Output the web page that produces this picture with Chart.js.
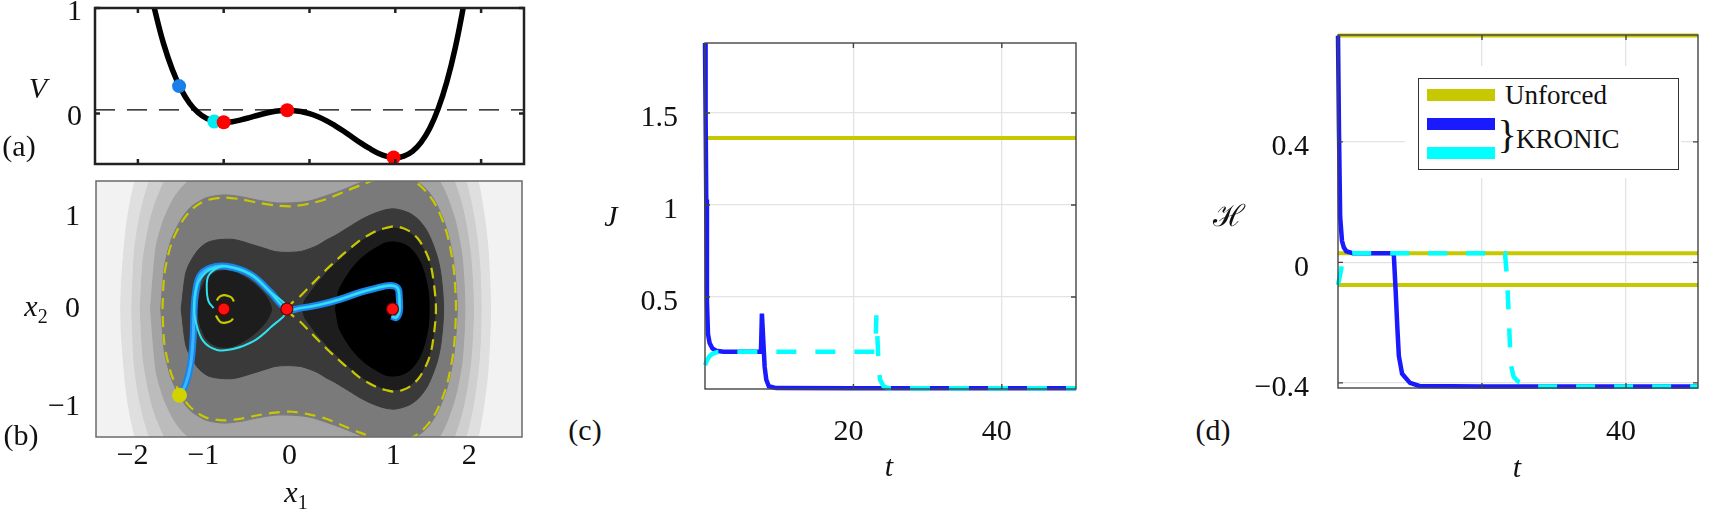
<!DOCTYPE html>
<html>
<head>
<meta charset="utf-8">
<script src="https://cdn.jsdelivr.net/npm/chart.js@4.4.1/dist/chart.umd.min.js"></script>
<style>
body{margin:0;width:1725px;height:529px;background:#fff;position:relative;overflow:hidden;font-family:"Liberation Serif",serif;color:#111}
canvas{position:absolute}
.c{position:absolute;white-space:nowrap;line-height:1;transform:translate(-50%,-50%)}
.l{position:absolute;white-space:nowrap;line-height:1}
i{font-style:italic}
.sub{font-size:20px;position:relative;top:7px}
</style>
</head>
<body>
<canvas id="ca"></canvas>
<canvas id="cb"></canvas>
<canvas id="cc"></canvas>
<canvas id="cd"></canvas>
<div id="txt"></div>
<script>

/* ---------- DATA ---------- */

// (a) potential V(x1)
const aX = [-1.9,-1.85,-1.8,-1.7,-1.6,-1.5,-1.4,-1.3,-1.2,-1.1,-1.0,-0.9,-0.8,-0.7,-0.6,-0.5,-0.4,-0.3,-0.2,-0.1,0,0.1,0.2,0.3,0.4,0.5,0.6,0.7,0.8,0.9,1.0,1.1,1.2,1.3,1.4,1.5,1.6,1.7,1.8,1.85];
const aV = [1.36,1.15,0.97,0.66,0.42,0.235,0.10,0.01,-0.046,-0.075,-0.083,-0.077,-0.06,-0.039,-0.016,0.005,0.021,0.03,0.03,0.02,0,-0.03,-0.069,-0.116,-0.168,-0.224,-0.28,-0.331,-0.375,-0.405,-0.417,-0.403,-0.358,-0.273,-0.141,0.047,0.299,0.627,1.04,1.28];
const aLevelX = [-2.5, 2.5];
const aLevelV = [0.035, 0.035];
const aPtX = [-1.52, -1.11, -1.0, -0.26, 0.98];
const aPtV = [0.26, -0.075, -0.083, 0.031, -0.417];
const aXTicks = [-2, -1, 0, 1, 2];
const aYTicks = [0, 1];

// (b) phase plane: filled level regions of H (outer to inner)
const bH315 = [[-2.21,0],[-2.2,0.32],[-2.15,0.9],[-2.1,1.22],[-2.05,1.44],[-2.0,1.62],[-1.9,1.8],[1.9,1.8],[1.95,1.61],[2.0,1.4],[2.05,1.11],[2.1,0.7],[2.13,0],[2.1,-0.7],[2.05,-1.11],[2.0,-1.4],[1.95,-1.61],[1.9,-1.8],[-1.9,-1.8],[-2.0,-1.62],[-2.05,-1.44],[-2.1,-1.22],[-2.15,-0.9],[-2.2,-0.32],[-2.21,0]];
const bH232 = [[-2.08,0],[-2.05,0.65],[-2.0,0.99],[-1.95,1.22],[-1.9,1.39],[-1.85,1.53],[-1.8,1.64],[-1.7,1.8],[1.7,1.8],[1.8,1.6],[1.85,1.44],[1.9,1.24],[1.95,0.97],[2.0,0.55],[2.02,0],[2.0,-0.55],[1.95,-0.97],[1.9,-1.24],[1.85,-1.44],[1.8,-1.6],[1.7,-1.8],[-1.7,-1.8],[-1.8,-1.64],[-1.85,-1.53],[-1.9,-1.39],[-1.95,-1.22],[-2.0,-0.99],[-2.05,-0.65],[-2.08,0]];
const bH172 = [[-1.98,0],[-1.95,0.53],[-1.9,0.85],[-1.85,1.07],[-1.8,1.23],[-1.75,1.35],[-1.7,1.46],[-1.65,1.54],[-1.6,1.62],[-1.5,1.8],[1.55,1.8],[1.65,1.59],[1.7,1.48],[1.75,1.34],[1.8,1.17],[1.85,0.93],[1.9,0.58],[1.93,0],[1.9,-0.58],[1.85,-0.93],[1.8,-1.17],[1.75,-1.34],[1.7,-1.48],[1.65,-1.59],[1.55,-1.8],[-1.5,-1.8],[-1.6,-1.62],[-1.65,-1.54],[-1.7,-1.46],[-1.75,-1.35],[-1.8,-1.23],[-1.85,-1.07],[-1.9,-0.85],[-1.95,-0.53],[-1.98,0]];
const bH120 = [[-1.86,0],[-1.8,0.68],[-1.75,0.89],[-1.7,1.04],[-1.6,1.25],[-1.5,1.39],[-1.4,1.48],[-1.3,1.54],[-1.2,1.58],[-1.0,1.62],[1.3,1.72],[1.4,1.64],[1.5,1.52],[1.6,1.34],[1.7,1.07],[1.75,0.87],[1.8,0.57],[1.83,0],[1.8,-0.57],[1.75,-0.87],[1.7,-1.07],[1.6,-1.34],[1.5,-1.52],[1.4,-1.64],[1.3,-1.72],[-1.0,-1.62],[-1.2,-1.58],[-1.3,-1.54],[-1.4,-1.48],[-1.5,-1.39],[-1.6,-1.25],[-1.7,-1.04],[-1.75,-0.89],[-1.8,-0.68],[-1.86,0]];
const bH077 = [[-1.74,0],[-1.7,0.47],[-1.65,0.69],[-1.6,0.84],[-1.5,1.03],[-1.4,1.16],[-1.3,1.23],[-1.2,1.28],[-1.0,1.31],[-0.8,1.29],[-0.6,1.25],[-0.4,1.22],[-0.2,1.22],[0,1.24],[0.2,1.3],[0.4,1.37],[0.6,1.45],[0.8,1.51],[1.0,1.54],[1.2,1.5],[1.3,1.44],[1.4,1.35],[1.5,1.2],[1.6,0.97],[1.65,0.79],[1.7,0.53],[1.74,0],[1.7,-0.53],[1.65,-0.79],[1.6,-0.97],[1.5,-1.2],[1.4,-1.35],[1.3,-1.44],[1.2,-1.5],[1.0,-1.54],[0.8,-1.51],[0.6,-1.45],[0.4,-1.37],[0.2,-1.3],[0,-1.24],[-0.2,-1.22],[-0.4,-1.22],[-0.6,-1.25],[-0.8,-1.29],[-1.0,-1.31],[-1.2,-1.28],[-1.3,-1.23],[-1.4,-1.16],[-1.5,-1.03],[-1.6,-0.84],[-1.65,-0.69],[-1.7,-0.47],[-1.74,0]];
const bH024 = [[-1.5,0],[-1.45,0.4],[-1.4,0.53],[-1.3,0.68],[-1.2,0.76],[-1.1,0.79],[-1.0,0.8],[-0.9,0.8],[-0.8,0.78],[-0.7,0.75],[-0.6,0.72],[-0.5,0.69],[-0.4,0.66],[-0.27,0.65],[-0.1,0.66],[0,0.69],[0.1,0.73],[0.2,0.79],[0.3,0.84],[0.4,0.9],[0.5,0.96],[0.6,1.02],[0.7,1.07],[0.8,1.11],[0.9,1.14],[1.0,1.15],[1.1,1.13],[1.2,1.09],[1.3,1.01],[1.4,0.87],[1.5,0.62],[1.55,0.39],[1.58,0],[1.55,-0.39],[1.5,-0.62],[1.4,-0.87],[1.3,-1.01],[1.2,-1.09],[1.1,-1.13],[1.0,-1.15],[0.9,-1.14],[0.8,-1.11],[0.7,-1.07],[0.6,-1.02],[0.5,-0.96],[0.4,-0.9],[0.3,-0.84],[0.2,-0.79],[0.1,-0.73],[0,-0.69],[-0.1,-0.66],[-0.27,-0.65],[-0.4,-0.66],[-0.5,-0.69],[-0.6,-0.72],[-0.7,-0.75],[-0.8,-0.78],[-0.9,-0.8],[-1.0,-0.8],[-1.1,-0.79],[-1.2,-0.76],[-1.3,-0.68],[-1.4,-0.53],[-1.45,-0.4],[-1.5,0]];
const bH002L = [[-1.31,0],[-1.28,0.18],[-1.25,0.26],[-1.2,0.35],[-1.1,0.42],[-1.0,0.44],[-0.9,0.43],[-0.8,0.39],[-0.7,0.33],[-0.6,0.25],[-0.5,0.14],[-0.44,0],[-0.5,-0.14],[-0.6,-0.25],[-0.7,-0.33],[-0.8,-0.39],[-0.9,-0.43],[-1.0,-0.44],[-1.1,-0.42],[-1.2,-0.35],[-1.25,-0.26],[-1.28,-0.18],[-1.31,0]];
const bH002R = [[-0.08,0],[-0.05,0.1],[0,0.17],[0.1,0.3],[0.2,0.41],[0.3,0.51],[0.4,0.6],[0.5,0.69],[0.6,0.77],[0.7,0.83],[0.8,0.88],[0.9,0.92],[1.0,0.93],[1.1,0.91],[1.2,0.86],[1.3,0.76],[1.4,0.56],[1.45,0.36],[1.48,0],[1.45,-0.36],[1.4,-0.56],[1.3,-0.76],[1.2,-0.86],[1.1,-0.91],[1.0,-0.93],[0.9,-0.92],[0.8,-0.88],[0.7,-0.83],[0.6,-0.77],[0.5,-0.69],[0.4,-0.6],[0.3,-0.51],[0.2,-0.41],[0.1,-0.3],[0,-0.17],[-0.05,-0.1],[-0.08,0]];
const bHm012 = [[0.31,0],[0.35,0.21],[0.4,0.31],[0.5,0.46],[0.6,0.57],[0.7,0.65],[0.8,0.71],[0.9,0.76],[1.0,0.77],[1.1,0.75],[1.2,0.69],[1.3,0.55],[1.35,0.42],[1.4,0.2],[1.41,0],[1.4,-0.2],[1.35,-0.42],[1.3,-0.55],[1.2,-0.69],[1.1,-0.75],[1.0,-0.77],[0.9,-0.76],[0.8,-0.71],[0.7,-0.65],[0.6,-0.57],[0.5,-0.46],[0.4,-0.31],[0.35,-0.21],[0.31,0]];
// dashed energy contours: initial energy, separatrix (right lobe), small orbit round the left well
const bE0 = [[-1.72,0],[-1.7,0.38],[-1.65,0.63],[-1.6,0.79],[-1.5,0.99],[-1.4,1.12],[-1.3,1.2],[-1.2,1.25],[-1.0,1.28],[-0.8,1.26],[-0.6,1.22],[-0.4,1.19],[-0.2,1.18],[0,1.21],[0.2,1.26],[0.4,1.34],[0.6,1.42],[0.8,1.49],[1.0,1.52],[1.2,1.48],[1.3,1.42],[1.4,1.32],[1.5,1.17],[1.6,0.93],[1.65,0.74],[1.7,0.45],[1.725,0],[1.7,-0.45],[1.65,-0.74],[1.6,-0.93],[1.5,-1.17],[1.4,-1.32],[1.3,-1.42],[1.2,-1.48],[1.0,-1.52],[0.8,-1.49],[0.6,-1.42],[0.4,-1.34],[0.2,-1.26],[0,-1.21],[-0.2,-1.18],[-0.4,-1.19],[-0.6,-1.22],[-0.8,-1.26],[-1.0,-1.28],[-1.2,-1.25],[-1.3,-1.2],[-1.4,-1.12],[-1.5,-0.99],[-1.6,-0.79],[-1.65,-0.63],[-1.7,-0.38],[-1.72,0]];
const bSep = [[-0.27,0],[-0.2,0.07],[-0.1,0.15],[0,0.25],[0.1,0.35],[0.2,0.45],[0.3,0.54],[0.4,0.63],[0.5,0.71],[0.6,0.79],[0.7,0.85],[0.8,0.9],[0.9,0.93],[1.0,0.95],[1.1,0.93],[1.2,0.88],[1.3,0.78],[1.4,0.59],[1.45,0.4],[1.49,0],[1.45,-0.4],[1.4,-0.59],[1.3,-0.78],[1.2,-0.88],[1.1,-0.93],[1.0,-0.95],[0.9,-0.93],[0.8,-0.9],[0.7,-0.85],[0.6,-0.79],[0.5,-0.71],[0.4,-0.63],[0.3,-0.54],[0.2,-0.45],[0.1,-0.35],[0,-0.25],[-0.1,-0.15],[-0.2,-0.07],[-0.27,0]];
const bSmall = [[-1.12,0],[-1.1,0.06],[-1.05,0.14],[-1.0,0.16],[-0.95,0.15],[-0.9,0.12],[-0.86,0],[-0.9,-0.12],[-0.95,-0.15],[-1.0,-0.16],[-1.05,-0.14],[-1.1,-0.06],[-1.12,0]];
// controlled trajectories
const bBlue = [[-1.52,-0.99],[-1.45,-0.87],[-1.39,-0.64],[-1.36,-0.33],[-1.35,-0.03],[-1.33,0.2],[-1.28,0.38],[-1.16,0.47],[-0.97,0.49],[-0.69,0.4],[-0.46,0.2],[-0.26,0],[-0.1,0.01],[0.13,0.05],[0.36,0.11],[0.6,0.19],[0.79,0.24],[0.95,0.27],[1.04,0.24],[1.06,0.13],[1.06,-0.03],[1.02,-0.1],[0.97,-0.08]];
const bCyan = [[-1.12,0.01],[-1.18,0.09],[-1.2,0.24],[-1.18,0.38],[-1.08,0.47],[-0.97,0.49],[-0.69,0.4],[-0.46,0.2],[-0.26,0],[-0.46,-0.22],[-0.65,-0.37],[-0.89,-0.46],[-1.08,-0.47],[-1.24,-0.37],[-1.33,-0.14],[-1.35,0.05],[-1.31,0.28],[-1.2,0.43],[-1.08,0.48],[-0.97,0.49],[-0.69,0.4],[-0.46,0.2],[-0.26,0],[-0.1,0.01],[0.13,0.05],[0.36,0.11],[0.6,0.19],[0.79,0.24],[0.95,0.27],[1.04,0.24],[1.06,0.13],[1.06,-0.03],[1.02,-0.1],[0.97,-0.08]];
const bFixX = [-1.0, -0.26, 0.98];
const bFixY = [0, 0, 0];
const bStartX = [-1.52];
const bStartY = [-0.99];
const bXTickVals = [-2.07, -1.24, -0.23, 0.99, 1.88];
const bXTickLabels = ['\u22122', '\u22121', '0', '1', '2'];
const bYTickVals = [-1.13, 0, 1.06];
const bYTickLabels = ['\u22121', '0', '1'];

// (c) cost J(t)
const cUnfT = [0, 50];
const cUnfJ = [1.364, 1.364];
const cBlueT = [0, 0.08, 0.17, 0.26, 0.4, 0.62, 1.0, 1.5, 2.5, 5, 7.54, 7.67, 7.81, 8.04, 8.26, 8.6, 9.6, 20, 50];
const cBlueJ = [1.88, 1.5, 1.03, 0.48, 0.30, 0.25, 0.22, 0.208, 0.203, 0.203, 0.203, 0.41, 0.30, 0.12, 0.05, 0.015, 0.005, 0.004, 0.004];
const cCyanT = [0, 0.3, 0.6, 0.95, 1.6, 3, 10, 22.95, 23.1, 23.25, 23.4, 23.6, 24.1, 24.8, 50];
const cCyanJ = [0.13, 0.158, 0.178, 0.19, 0.2, 0.203, 0.203, 0.203, 0.40, 0.27, 0.12, 0.05, 0.012, 0.004, 0.004];
const cXTicks = [20, 40];
const cYTicks = [0.5, 1, 1.5];

// (d) energy H(t)
const dUnfT = [0, 50];
const dUnfHigh = [0.753, 0.753];
const dUnfSaddle = [0.03, 0.03];
const dUnfLow = [-0.075, -0.075];
const dBlueT = [0, 0.14, 0.3, 0.55, 0.8, 1.15, 2.1, 5, 7.74, 8.0, 8.25, 8.45, 8.9, 10.0, 11.3, 20, 50];
const dBlueH = [0.753, 0.43, 0.151, 0.072, 0.05, 0.037, 0.03, 0.03, 0.03, -0.09, -0.22, -0.31, -0.37, -0.40, -0.41, -0.412, -0.412];
const dCyanT = [0, 0.3, 0.6, 1.2, 2, 10, 23.2, 23.5, 23.75, 24.0, 24.4, 25.0, 26.0, 27.5, 50];
const dCyanH = [-0.075, -0.04, -0.003, 0.028, 0.03, 0.03, 0.03, -0.06, -0.2, -0.34, -0.38, -0.395, -0.405, -0.412, -0.412];
const dXTicks = [20, 40];
const dYTicks = [-0.4, 0, 0.4];

/* ---------- STYLE ---------- */

const YEL = '#c8c800', BLUE = '#1a1aff', CYAN = '#00ffff';
const aPtColors = ['#1a80e8', '#00eef2', '#ff0000', '#ff0000', '#ff0000'];
const bFill = ['#dfdfdf', '#cfcfcf', '#bcbcbc', '#a3a3a3', '#7a7a7a', '#3a3a3a', '#1d1d1d', '#000000'];

Chart.defaults.font.family = '"Liberation Serif", serif';
Chart.defaults.font.size = 30;
Chart.defaults.color = '#111';
Chart.defaults.elements.line.capBezierPoints = false;
Chart.defaults.plugins.legend.display = false;
Chart.defaults.plugins.tooltip.enabled = false;

/* ---------- HELPERS ---------- */

function xy(xs, ys){ return xs.map((x, i) => ({x: x, y: ys[i]})); }
function pts(arr){ return arr.map(p => ({x: p[0], y: p[1]})); }
function minus(v){ return String(v).replace('-', '\u2212'); }
function fixed(vals){ return s => { s.ticks = vals.map(v => ({value: v})); }; }

// box + inward tick marks, like a matlab axes
const framePlugin = {
  id: 'frame',
  afterDatasetsDraw(chart, args, o){
    const ctx = chart.ctx, a = chart.chartArea;
    ctx.save();
    ctx.strokeStyle = o.color; ctx.lineWidth = o.width;
    if(o.tick){
      ctx.beginPath();
      const xs = chart.scales.x, ys = chart.scales.y;
      xs.ticks.forEach(t => {
        const p = xs.getPixelForValue(t.value);
        ctx.moveTo(p, a.bottom); ctx.lineTo(p, a.bottom - o.tick);
        ctx.moveTo(p, a.top); ctx.lineTo(p, a.top + o.tick);
      });
      ys.ticks.forEach(t => {
        const p = ys.getPixelForValue(t.value);
        ctx.moveTo(a.left, p); ctx.lineTo(a.left + o.tick, p);
        ctx.moveTo(a.right, p); ctx.lineTo(a.right - o.tick, p);
      });
      ctx.stroke();
    }
    ctx.strokeRect(a.left, a.top, a.right - a.left, a.bottom - a.top);
    ctx.restore();
  }
};

const areaBg = {
  id: 'areaBg',
  beforeDatasetsDraw(chart, args, o){
    if(!o.color) return;
    const a = chart.chartArea;
    chart.ctx.save();
    chart.ctx.fillStyle = o.color;
    chart.ctx.fillRect(a.left, a.top, a.right - a.left, a.bottom - a.top);
    chart.ctx.restore();
  }
};

// plot = [left, top, right, bottom] on the page, m = room for the axes around it
function makeChart(id, plot, m, cfg){
  const cv = document.getElementById(id);
  const w = plot[2] - plot[0] + m.l + m.r, h = plot[3] - plot[1] + m.t + m.b;
  cv.width = w; cv.height = h;
  cv.style.width = w + 'px'; cv.style.height = h + 'px';
  cv.style.left = (plot[0] - m.l) + 'px'; cv.style.top = (plot[1] - m.t) + 'px';
  const o = cfg.options;
  o.responsive = false;
  o.animation = false;
  o.layout = {padding: {left: 0, top: m.t, right: m.r, bottom: 0}};
  o.scales.x.afterFit = s => { s.height = m.b; s.paddingLeft = 0; s.paddingRight = 0; };
  o.scales.y.afterFit = s => { s.width = m.l; s.paddingTop = 0; s.paddingBottom = 0; };
  cfg.plugins = [areaBg, framePlugin];
  return new Chart(cv, cfg);
}

function addText(html, x, y, size, centered){
  const d = document.createElement('div');
  d.className = centered ? 'c' : 'l';
  d.style.left = x + 'px'; d.style.top = y + 'px';
  d.style.fontSize = size + 'px';
  d.innerHTML = html;
  document.getElementById('txt').appendChild(d);
  return d;
}

/* ---------- (a) ---------- */

makeChart('ca', [95, 8, 524, 164], {l: 95, t: 30, r: 16, b: 20}, {
  type: 'line',
  data: {datasets: [
    {data: xy(aX, aV), borderColor: '#000', borderWidth: 5.5, pointRadius: 0, tension: 0.4, order: 2},
    {data: xy(aLevelX, aLevelV), borderColor: '#000', borderWidth: 1.2, borderDash: [20, 12], pointRadius: 0, order: 3},
    {data: xy(aPtX, aPtV), showLine: false, pointRadius: 7, pointBackgroundColor: aPtColors, pointBorderColor: aPtColors, pointBorderWidth: 0, order: 1, clip: false}
  ]},
  options: {
    plugins: {frame: {color: '#222', width: 2.5, tick: 5}},
    scales: {
      x: {type: 'linear', min: -2.5, max: 2.5, afterBuildTicks: fixed(aXTicks),
          grid: {display: false, drawTicks: false}, border: {display: false},
          ticks: {display: false}},
      y: {type: 'linear', min: -0.478, max: 1, afterBuildTicks: fixed(aYTicks),
          grid: {display: false, drawTicks: false}, border: {display: false},
          ticks: {autoSkip: false, padding: 13, labelOffset: 4, callback: v => minus(v)}}
    }
  }
});

/* ---------- (b) ---------- */

const bLevels = [bH315, bH232, bH172, bH120, bH077, bH024, bH002L, bH002R, bHm012];
const bLevelColor = [bFill[0], bFill[1], bFill[2], bFill[3], bFill[4], bFill[5], bFill[6], bFill[6], bFill[7]];
const bSets = bLevels.map((poly, i) => ({
  data: pts(poly), fill: 'shape', backgroundColor: bLevelColor[i], borderColor: bLevelColor[i],
  borderWidth: 1, pointRadius: 0, tension: 0.3, order: 40 - i
}));
bSets.push(
  {data: pts(bE0), borderColor: YEL, borderWidth: 2.2, borderDash: [11, 7], pointRadius: 0, tension: 0.3, order: 12},
  {data: pts(bSep), borderColor: YEL, borderWidth: 2.2, borderDash: [11, 7], pointRadius: 0, tension: 0.3, order: 11},
  {data: pts(bSmall), borderColor: YEL, borderWidth: 2.2, borderDash: [22, 18], borderDashOffset: -9, pointRadius: 0, tension: 0.4, order: 10},
  {data: pts(bBlue), borderColor: '#1a84e8', borderWidth: 7, pointRadius: 0, tension: 0.4, order: 7},
  {data: pts(bBlue), borderColor: '#3ab6ff', borderWidth: 3, pointRadius: 0, tension: 0.4, order: 6},
  {data: pts(bCyan), borderColor: '#2fe2ee', borderWidth: 2, pointRadius: 0, tension: 0.4, order: 5},
  {data: xy(bFixX, bFixY), showLine: false, pointRadius: 6, pointBackgroundColor: '#ff1010', pointBorderColor: '#6a0000', pointBorderWidth: 1.2, order: 2, clip: false},
  {data: xy(bStartX, bStartY), showLine: false, pointRadius: 7.5, pointBackgroundColor: '#d2d200', pointBorderColor: '#d2d200', pointBorderWidth: 0, order: 1, clip: false}
);

makeChart('cb', [96, 181, 522, 437], {l: 96, t: 30, r: 16, b: 60}, {
  type: 'line',
  data: {datasets: bSets},
  options: {
    plugins: {frame: {color: '#6a6a6a', width: 1.5, tick: 0}, areaBg: {color: '#f2f2f2'}},
    scales: {
      x: {type: 'linear', min: -2.5, max: 2.5, afterBuildTicks: fixed(bXTickVals),
          grid: {display: false, drawTicks: false}, border: {display: false},
          ticks: {autoSkip: false, maxRotation: 0, padding: 1, callback: (v, i) => bXTickLabels[i]}},
      y: {type: 'linear', min: -1.47, max: 1.47, afterBuildTicks: fixed(bYTickVals),
          grid: {display: false, drawTicks: false}, border: {display: false},
          ticks: {autoSkip: false, padding: 16, callback: (v, i) => bYTickLabels[i]}}
    }
  }
});

/* ---------- (c) ---------- */

makeChart('cc', [705, 43, 1076, 389], {l: 100, t: 30, r: 20, b: 70}, {
  type: 'line',
  data: {datasets: [
    {data: xy(cUnfT, cUnfJ), borderColor: YEL, borderWidth: 4, pointRadius: 0, order: 3, clip: 4},
    {data: xy(cBlueT, cBlueJ), borderColor: BLUE, borderWidth: 4.5, pointRadius: 0, order: 2, clip: 4},
    {data: xy(cCyanT, cCyanJ), borderColor: CYAN, borderWidth: 4.5, borderDash: [20, 19], pointRadius: 0, order: 1, clip: 4}
  ]},
  options: {
    plugins: {frame: {color: '#444', width: 1.4, tick: 5}},
    scales: {
      x: {type: 'linear', min: 0, max: 50, afterBuildTicks: fixed(cXTicks),
          grid: {color: '#e3e3e3', lineWidth: 1.3, drawTicks: false}, border: {display: false},
          ticks: {autoSkip: false, maxRotation: 0, padding: 25, labelOffset: -5, callback: v => minus(v)}},
      y: {type: 'linear', min: 0, max: 1.88, afterBuildTicks: fixed(cYTicks),
          grid: {color: '#e3e3e3', lineWidth: 1.3, drawTicks: false}, border: {display: false},
          ticks: {autoSkip: false, padding: 27, labelOffset: 5, callback: v => minus(v)}}
    }
  }
});

/* ---------- (d) ---------- */

makeChart('cd', [1338, 35, 1698, 388], {l: 100, t: 30, r: 20, b: 70}, {
  type: 'line',
  data: {datasets: [
    {data: xy(dUnfT, dUnfHigh), borderColor: YEL, borderWidth: 4, pointRadius: 0, order: 5, clip: false},
    {data: xy(dUnfT, dUnfSaddle), borderColor: YEL, borderWidth: 4, pointRadius: 0, order: 4, clip: 4},
    {data: xy(dUnfT, dUnfLow), borderColor: YEL, borderWidth: 4, pointRadius: 0, order: 3, clip: 4},
    {data: xy(dBlueT, dBlueH), borderColor: BLUE, borderWidth: 4.5, pointRadius: 0, order: 2, clip: 4},
    {data: xy(dCyanT, dCyanH), borderColor: CYAN, borderWidth: 4.5, borderDash: [19, 19], pointRadius: 0, order: 1, clip: 4}
  ]},
  options: {
    plugins: {frame: {color: '#444', width: 1.4, tick: 5}},
    scales: {
      x: {type: 'linear', min: 0, max: 50, afterBuildTicks: fixed(dXTicks),
          grid: {color: '#e3e3e3', lineWidth: 1.3, drawTicks: false}, border: {display: false},
          ticks: {autoSkip: false, maxRotation: 0, padding: 26, labelOffset: -5, callback: v => minus(v)}},
      y: {type: 'linear', min: -0.417, max: 0.755, afterBuildTicks: fixed(dYTicks),
          grid: {color: '#e3e3e3', lineWidth: 1.3, drawTicks: false}, border: {display: false},
          ticks: {autoSkip: false, padding: 29, labelOffset: 5.5, callback: v => minus(v)}}
    }
  }
});

/* ---------- TEXT ---------- */

addText('(a)', 19, 146, 30, true);
addText('(b)', 21, 435, 30, true);
addText('(c)', 585, 430, 30, true);
addText('(d)', 1213, 430, 30, true);
addText('<i>V</i>', 38, 88, 30, true);
addText('<i>x</i><span class="sub">2</span>', 36, 306, 30, true);
addText('<i>x</i><span class="sub">1</span>', 296, 492, 30, true);
addText('<i>J</i>', 611, 216, 30, true);
addText('<i>t</i>', 889, 466, 30, true);
addText('\u210B', 1229, 216, 30, true);
addText('<i>t</i>', 1517, 467, 30, true);

// legend of (d)
const lgBack = document.createElement('div');
lgBack.style.cssText = 'position:absolute;left:1405px;top:66px;width:276px;height:112px;background:#fff';
document.getElementById('txt').appendChild(lgBack);
const lgBox = document.createElement('div');
lgBox.style.cssText = 'position:absolute;left:1418px;top:78px;width:259px;height:90px;border:1.2px solid #333;background:#fff';
document.getElementById('txt').appendChild(lgBox);
[[89, YEL], [118, BLUE], [147, CYAN]].forEach(s => {
  const sw = document.createElement('div');
  sw.style.cssText = 'position:absolute;left:1427px;width:68px;height:11.5px;top:' + s[0] + 'px;background:' + s[1];
  document.getElementById('txt').appendChild(sw);
});
addText('Unforced', 1505, 82, 27, false);
addText('}', 1507, 135, 40, true);
addText('KRONIC', 1516, 126, 27, false);
</script>
</body>
</html>
